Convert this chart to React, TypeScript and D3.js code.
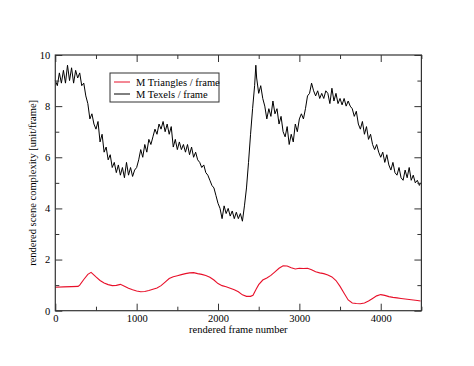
import React, { useEffect, useRef } from 'react';
import * as d3 from 'd3';

// black series: M Texels / frame
const texelFrames = [
  0, 25, 50, 75, 100, 125, 150, 175, 200, 225, 250, 275, 300, 325, 350, 375, 400, 425, 450, 475,
  500, 525, 550, 575, 600, 625, 650, 675, 700, 725, 750, 775, 800, 825, 850, 875, 900, 925, 950, 975,
  1000, 1025, 1050, 1075, 1100, 1125, 1150, 1175, 1200, 1225, 1250, 1275, 1300, 1325, 1350, 1375, 1400, 1425, 1450, 1475,
  1500, 1525, 1550, 1575, 1600, 1625, 1650, 1675, 1700, 1725, 1750, 1775, 1800, 1825, 1850, 1875, 1900, 1925, 1950, 1975,
  2000, 2025, 2050, 2075, 2100, 2125, 2150, 2175, 2200, 2225, 2250, 2275, 2300, 2325, 2350, 2375, 2400, 2425, 2450, 2465, 2475,
  2500, 2525, 2550, 2575, 2600, 2625, 2650, 2675, 2700, 2725, 2750, 2775, 2800, 2825, 2850, 2875, 2900, 2925, 2950, 2975,
  3000, 3025, 3050, 3075, 3100, 3125, 3150, 3175, 3200, 3225, 3250, 3275, 3300, 3325, 3350, 3375, 3400, 3425, 3450, 3475,
  3500, 3525, 3550, 3575, 3600, 3625, 3650, 3675, 3700, 3725, 3750, 3775, 3800, 3825, 3850, 3875, 3900, 3925, 3950, 3975,
  4000, 4025, 4050, 4075, 4100, 4125, 4150, 4175, 4200, 4225, 4250, 4275, 4300, 4325, 4350, 4375, 4400, 4425, 4450, 4475, 4490
];
const texelValues = [
  9.0, 8.8, 9.3, 8.9, 9.4, 8.9, 9.6, 9.0, 9.5, 8.9, 9.4, 9.1, 9.3, 8.8, 8.9, 8.4, 8.1, 7.5, 7.7, 7.3,
  7.1, 7.4, 6.6, 6.9, 6.2, 6.4, 5.9, 6.1, 5.6, 5.8, 5.4, 5.7, 5.3, 5.6, 5.2, 5.8, 5.3, 5.6, 5.25, 5.5,
  5.6, 5.9, 6.3, 6.0, 6.5, 6.2, 6.7, 6.5, 6.8, 7.1, 6.9, 7.3, 7.1, 7.4, 7.0, 7.3, 6.9, 7.2, 6.4, 6.7,
  6.3, 6.6, 6.3, 6.5, 6.2, 6.5, 6.1, 6.4, 6.0, 6.2, 5.9, 5.8, 5.6, 5.7, 5.4, 5.3, 5.1, 4.9, 4.8, 4.5,
  4.2, 4.0, 3.6, 4.1, 3.8, 4.0, 3.7, 3.9, 3.6, 3.85, 3.6, 3.8, 3.5, 4.1, 4.8, 5.8, 6.9, 7.9, 8.8, 9.6, 9.1,
  8.5, 8.8, 8.3, 8.0, 7.5, 7.9, 7.6, 8.2, 7.7, 7.9, 7.3, 7.6, 7.0, 6.8, 7.2, 6.5, 6.9, 6.6, 7.3, 7.0,
  7.5, 7.7, 7.5, 7.9, 8.4, 8.5, 8.9, 8.6, 8.4, 8.6, 8.3, 8.5, 8.3, 8.6, 8.5, 8.1, 8.7, 8.2, 8.5, 8.1,
  8.3, 8.05, 8.3, 8.0, 8.2, 8.0, 7.9, 7.6, 7.8, 7.3, 7.1, 7.4, 6.9, 7.2, 6.7, 6.9, 6.5, 6.3, 6.5, 6.2,
  6.0, 6.2, 5.8, 6.1, 5.7, 5.5, 5.8, 5.4, 5.3, 5.6, 5.2, 5.1, 5.5, 5.2, 5.6, 5.1, 5.3, 5.0, 5.1, 4.9, 5.0
];

// red series: M Triangles / frame
const triFrames = [
  0, 100, 200, 280, 300, 350, 400, 440, 500, 550, 600, 650, 700, 750, 800, 850, 900, 950,
  1000, 1050, 1100, 1150, 1200, 1250, 1300, 1350, 1400, 1450, 1500, 1550, 1600, 1650, 1700, 1750, 1800, 1850, 1900, 1950,
  2000, 2050, 2100, 2150, 2200, 2250, 2300, 2350, 2400, 2430, 2470, 2500, 2550, 2600, 2650, 2700, 2750, 2800, 2850, 2900, 2950,
  3000, 3050, 3100, 3150, 3200, 3250, 3300, 3350, 3400, 3450, 3500, 3550, 3600, 3650, 3700, 3750, 3800, 3850, 3900, 3950,
  4000, 4050, 4100, 4150, 4200, 4250, 4300, 4350, 4400, 4450, 4490
];
const triValues = [
  0.92, 0.93, 0.94, 0.95, 1.0, 1.22, 1.42, 1.5, 1.32, 1.18, 1.08, 1.02, 0.98, 0.99, 1.03, 0.96, 0.88, 0.82,
  0.77, 0.74, 0.75, 0.79, 0.84, 0.89, 0.98, 1.12, 1.26, 1.33, 1.37, 1.41, 1.45, 1.48, 1.49, 1.45, 1.42, 1.38, 1.31, 1.2,
  1.06, 0.98, 0.94, 0.88, 0.82, 0.74, 0.62, 0.56, 0.56, 0.6, 0.85, 1.02, 1.2, 1.28, 1.38, 1.52, 1.66, 1.76, 1.75, 1.68, 1.63,
  1.66, 1.65, 1.66, 1.6, 1.52, 1.48, 1.45, 1.4, 1.32, 1.18, 0.95, 0.68, 0.42, 0.3, 0.28, 0.27, 0.3, 0.38, 0.48, 0.58,
  0.63, 0.6, 0.55, 0.52, 0.5, 0.48, 0.46, 0.44, 0.42, 0.4, 0.38
];

const xMajor = [0, 1000, 2000, 3000, 4000];
const xMinor = [500, 1500, 2500, 3500, 4500];
const yMajor = [0, 2, 4, 6, 8, 10];
const yMinor = [1, 3, 5, 7, 9];

const legendLabels = ['M Triangles / frame', 'M Texels / frame'];
const legendColors = ['#e8102a', '#000000'];

const width = 474;
const height = 366;
const left = 55.3;
const right = 421.4;
const top = 55;
const bottom = 310.7;
const font = '"Liberation Serif", "DejaVu Serif", serif';

const App = () => {
  const ref = useRef<SVGSVGElement>(null);

  useEffect(() => {
    const svg = d3.select(ref.current);
    svg.selectAll('*').remove();

    const x = d3.scaleLinear().domain([0, 4500]).range([left, right]);
    const y = d3.scaleLinear().domain([0, 10]).range([bottom, top]);

    const line = d3.line<[number, number]>()
                   .x(d => x(d[0]))
                   .y(d => y(d[1]));

    const plot = svg.append('g');

    plot.append('path')
        .datum(triFrames.map((f, i) => [f, triValues[i]] as [number, number]))
        .attr('d', line)
        .attr('fill', 'none')
        .attr('stroke', legendColors[0])
        .attr('stroke-width', 1.1);

    plot.append('path')
        .datum(texelFrames.map((f, i) => [f, texelValues[i]] as [number, number]))
        .attr('d', line)
        .attr('fill', 'none')
        .attr('stroke', legendColors[1])
        .attr('stroke-width', 1)
        .attr('stroke-linejoin', 'round');

    // axes, ticks inward on all four sides
    const styleAxis = (g: any) => {
      g.select('.domain').remove();
      g.selectAll('line').attr('stroke', '#333');
      g.selectAll('text')
       .attr('fill', '#000')
       .style('font-family', font)
       .style('font-size', '10.5px');
    };

    svg.append('g')
       .attr('transform', `translate(0, ${bottom})`)
       .call(d3.axisBottom(x).tickValues(xMajor).tickSize(-7).tickPadding(4).tickFormat(d3.format('d')))
       .call(styleAxis);
    svg.append('g')
       .attr('transform', `translate(0, ${bottom})`)
       .call(d3.axisBottom(x).tickValues(xMinor).tickSize(-4).tickFormat(() => ''))
       .call(styleAxis);
    svg.append('g')
       .attr('transform', `translate(0, ${top})`)
       .call(d3.axisTop(x).tickValues(xMajor).tickSize(-7).tickFormat(() => ''))
       .call(styleAxis);
    svg.append('g')
       .attr('transform', `translate(0, ${top})`)
       .call(d3.axisTop(x).tickValues(xMinor).tickSize(-4).tickFormat(() => ''))
       .call(styleAxis);

    svg.append('g')
       .attr('transform', `translate(${left}, 0)`)
       .call(d3.axisLeft(y).tickValues(yMajor).tickSize(-7).tickPadding(5).tickFormat(d3.format('d')))
       .call(styleAxis);
    svg.append('g')
       .attr('transform', `translate(${left}, 0)`)
       .call(d3.axisLeft(y).tickValues(yMinor).tickSize(-4).tickFormat(() => ''))
       .call(styleAxis);
    svg.append('g')
       .attr('transform', `translate(${right}, 0)`)
       .call(d3.axisRight(y).tickValues(yMajor).tickSize(-7).tickFormat(() => ''))
       .call(styleAxis);
    svg.append('g')
       .attr('transform', `translate(${right}, 0)`)
       .call(d3.axisRight(y).tickValues(yMinor).tickSize(-4).tickFormat(() => ''))
       .call(styleAxis);

    svg.append('rect')
       .attr('x', left)
       .attr('y', top)
       .attr('width', right - left)
       .attr('height', bottom - top)
       .attr('fill', 'none')
       .attr('stroke', '#333')
       .attr('stroke-width', 1.2);

    svg.append('text')
       .attr('x', (left + right) / 2)
       .attr('y', 333)
       .attr('text-anchor', 'middle')
       .style('font-family', font)
       .style('font-size', '10.5px')
       .text('rendered frame number');

    svg.append('text')
       .attr('transform', `translate(36, ${(top + bottom) / 2}) rotate(-90)`)
       .attr('text-anchor', 'middle')
       .style('font-family', font)
       .style('font-size', '10.5px')
       .text('rendered scene complexity [unit/frame]');

    // legend
    const legend = svg.append('g').attr('transform', 'translate(110, 73)');
    legend.append('rect')
          .attr('width', 109)
          .attr('height', 29)
          .attr('fill', '#fff')
          .attr('stroke', '#333')
          .attr('stroke-width', 1);
    legendLabels.forEach((label, i) => {
      const ly = 9 + i * 12;
      legend.append('line')
            .attr('x1', 4).attr('x2', 20)
            .attr('y1', ly).attr('y2', ly)
            .attr('stroke', legendColors[i])
            .attr('stroke-width', 1);
      legend.append('text')
            .attr('x', 26)
            .attr('y', ly + 3.5)
            .style('font-family', font)
            .style('font-size', '10.5px')
            .text(label);
    });
  }, []);

  return (
    <svg ref={ref} width={width} height={height}
         style={{ position: 'absolute', left: 0, top: 0, background: '#fff' }} />
  );
};

export default App;
